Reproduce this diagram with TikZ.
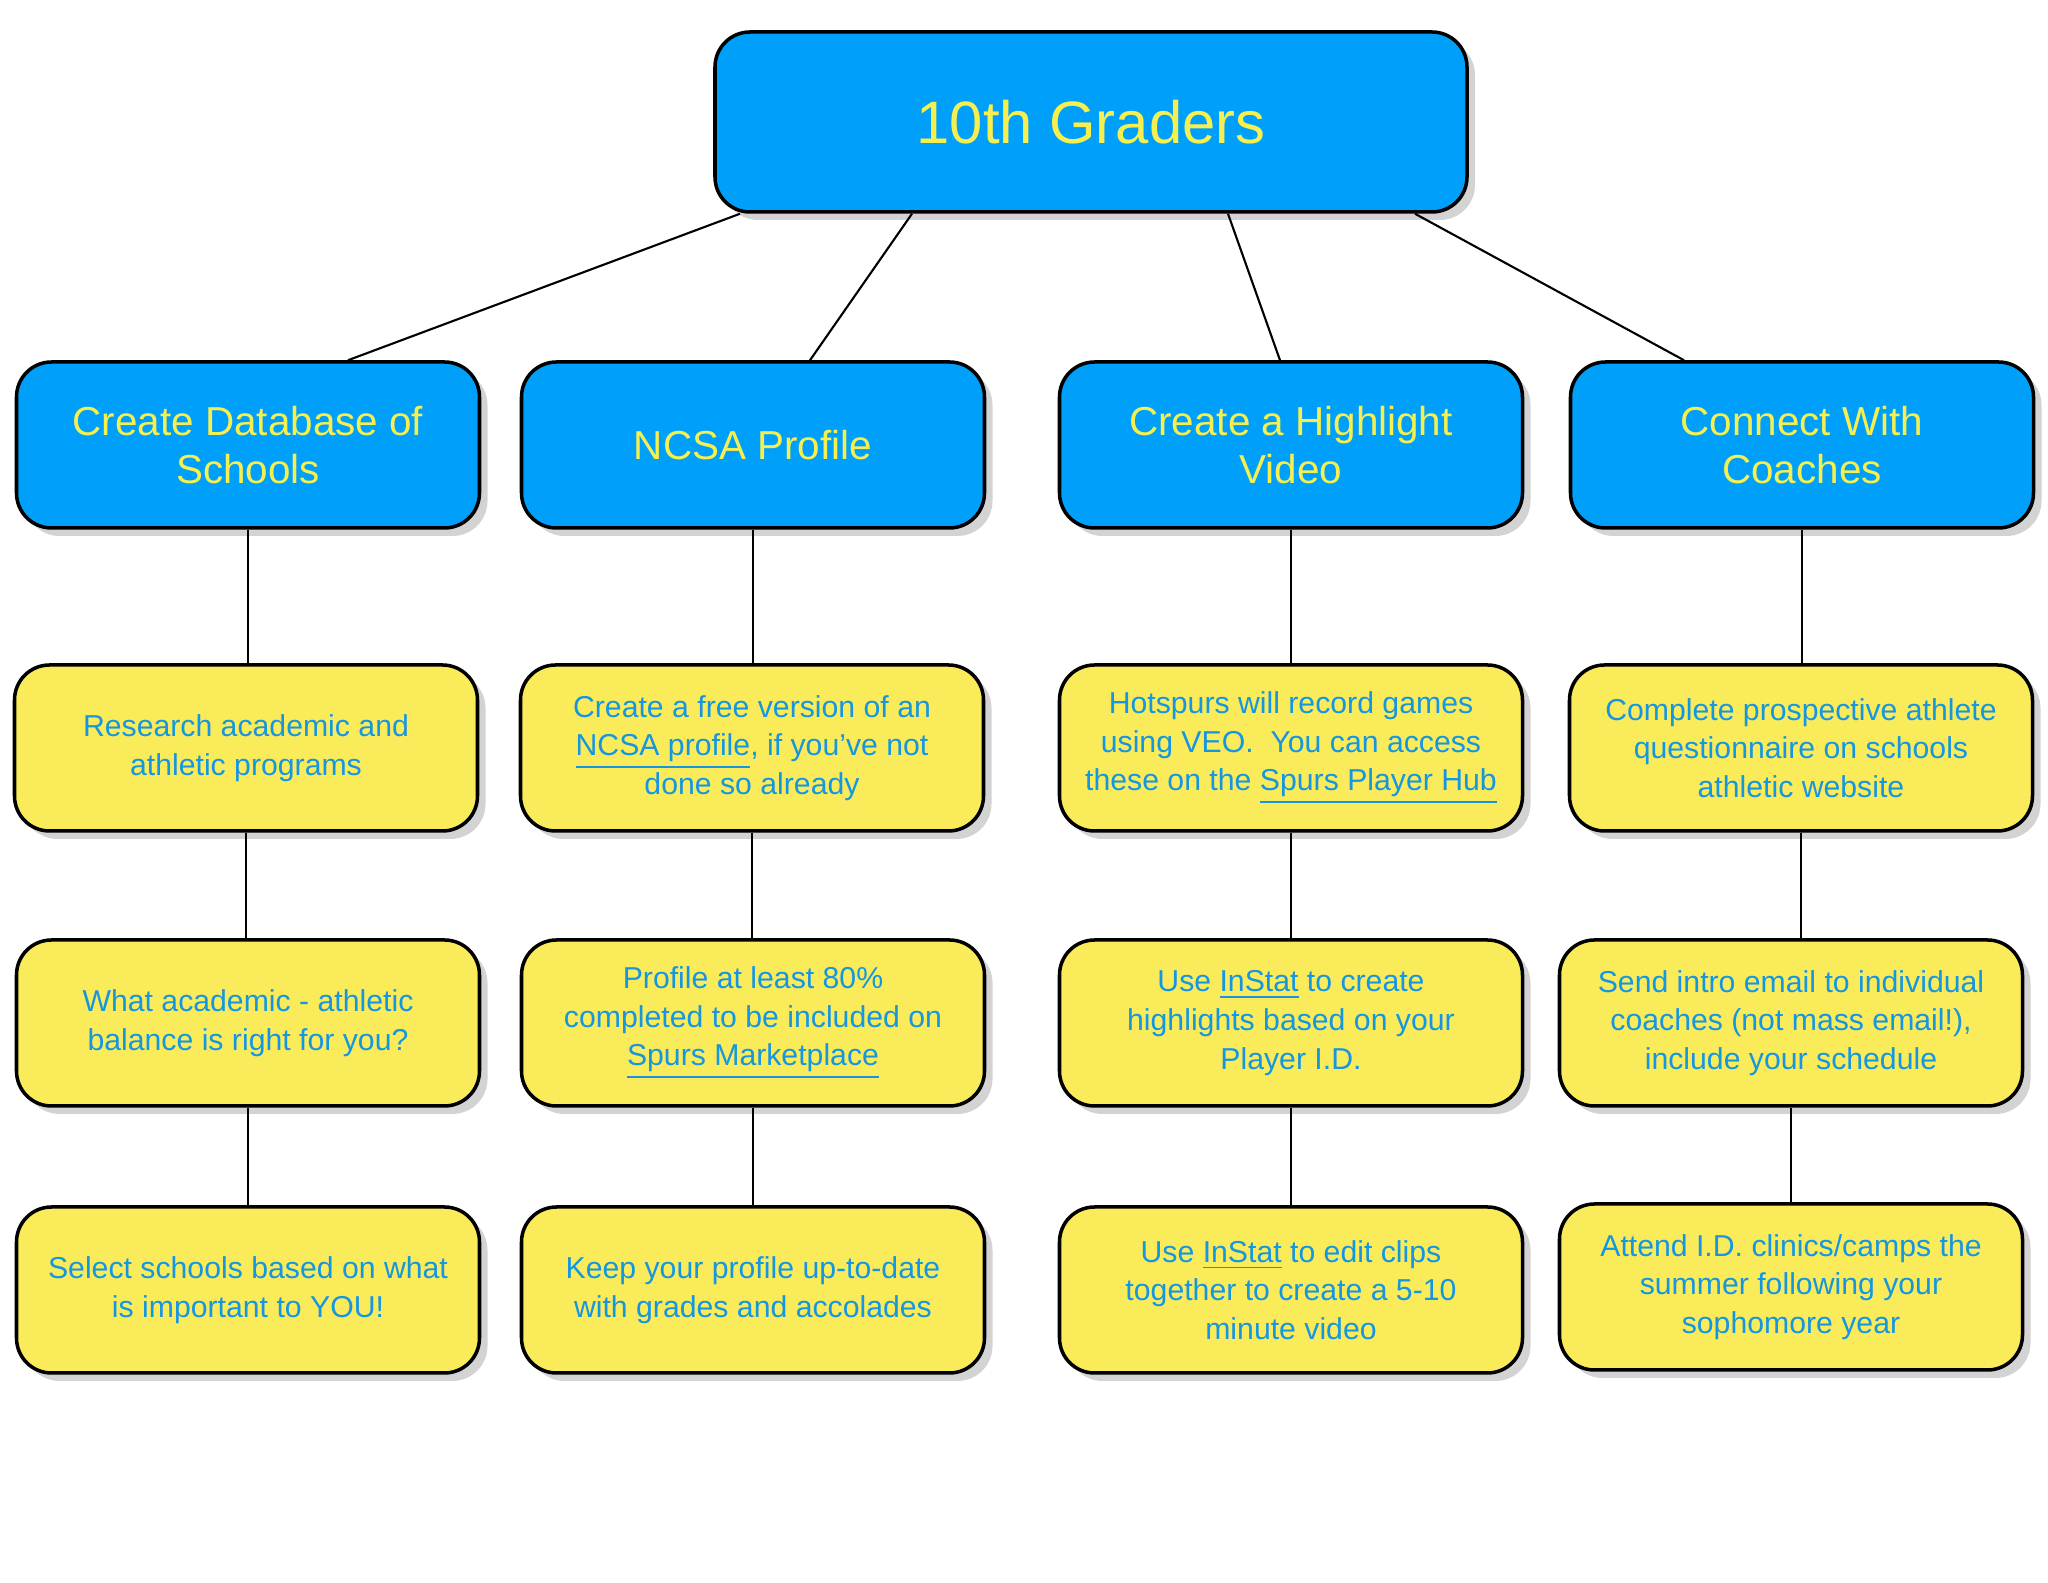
\documentclass[tikz,border=0pt]{standalone}
\usepackage{fontspec}
\setmainfont{Liberation Sans}
\usetikzlibrary{shadows}
\definecolor{boxblue}{RGB}{0,160,250}
\definecolor{boxyellow}{RGB}{250,235,90}
\definecolor{txtblue}{RGB}{20,150,225}
\definecolor{txtyellow}{RGB}{245,240,80}
\tikzset{
  box/.style={draw=black, line width=1pt, rounded corners=0.35cm,
    drop shadow={shadow xshift=0.08cm, shadow yshift=-0.08cm, opacity=0.35},
    minimum width=4.63cm, minimum height=1.66cm, align=center},
  head/.style={box, fill=boxblue, text=txtyellow, font=\fontsize{11.5}{13.5}\selectfont},
  task/.style={box, fill=boxyellow, text=txtblue, font=\fontsize{8.6}{11}\selectfont},
  link/.style={line width=0.6pt}
}
\begin{document}
\begin{tikzpicture}
\useasboundingbox (0,0) rectangle (20.48,-15.83);

% top
\node[box, fill=boxblue, text=txtyellow, minimum width=7.52cm, minimum height=1.8cm,
  font=\fontsize{17}{20}\selectfont] (top) at (10.91,-1.22) {10th Graders};

% headings
\node[head] (dbase) at (2.48,-4.45) {Create Database of\\Schools};
\node[head] (ncsa) at (7.53,-4.45) {NCSA Profile};
\node[head] (video) at (12.91,-4.45) {Create a Highlight\\Video};
\node[head] (coach) at (18.02,-4.45) {Connect With\\Coaches};

% first column
\node[task] (dbaseA) at (2.46,-7.48) {Research academic and\\athletic programs};
\node[task] (dbaseB) at (2.48,-10.23) {What academic - athletic\\balance is right for you?};
\node[task] (dbaseC) at (2.48,-12.90) {Select schools based on what\\is important to YOU!};

% second column
\node[task] (ncsaA) at (7.52,-7.48) {Create a free version of an\\\underline{NCSA profile}, if you've not\\done so already};
\node[task] (ncsaB) at (7.53,-10.23) {Profile at least 80\%\\completed to be included on\\\underline{Spurs Marketplace}};
\node[task] (ncsaC) at (7.53,-12.90) {Keep your profile up-to-date\\with grades and accolades};

% third column
\node[task] (videoA) at (12.91,-7.48) {Hotspurs will record games\\using VEO.\ \ You can access\\these on the \underline{Spurs Player Hub}};
\node[task] (videoB) at (12.91,-10.23) {Use \underline{InStat} to create\\highlights based on your\\Player I.D.};
\node[task] (videoC) at (12.91,-12.90) {Use \underline{InStat} to edit clips\\together to create a 5-10\\minute video};

% fourth column
\node[task] (coachA) at (18.01,-7.48) {Complete prospective athlete\\questionnaire on schools\\athletic website};
\node[task] (coachB) at (17.91,-10.23) {Send intro email to individual\\coaches (not mass email!),\\include your schedule};
\node[task] (coachC) at (17.91,-12.87) {Attend I.D. clinics/camps the\\summer following your\\sophomore year};

% links from top
\draw[link] ([xshift=-3.51cm]top.south) -- ([xshift=1.0cm]dbase.north);
\draw[link] ([xshift=-1.79cm]top.south) -- ([xshift=0.57cm]ncsa.north);
\draw[link] ([xshift=1.37cm]top.south) -- ([xshift=-0.11cm]video.north);
\draw[link] ([xshift=3.24cm]top.south) -- ([xshift=-1.18cm]coach.north);

% columns
\foreach \c in {dbase,ncsa,video,coach}{
  \draw[link] (\c.south) -- (\c.south |- \c A.north);
  \draw[link] (\c A.south) -- (\c A.south |- \c B.north);
  \draw[link] (\c B.south) -- (\c B.south |- \c C.north);
}
\end{tikzpicture}
\end{document}
